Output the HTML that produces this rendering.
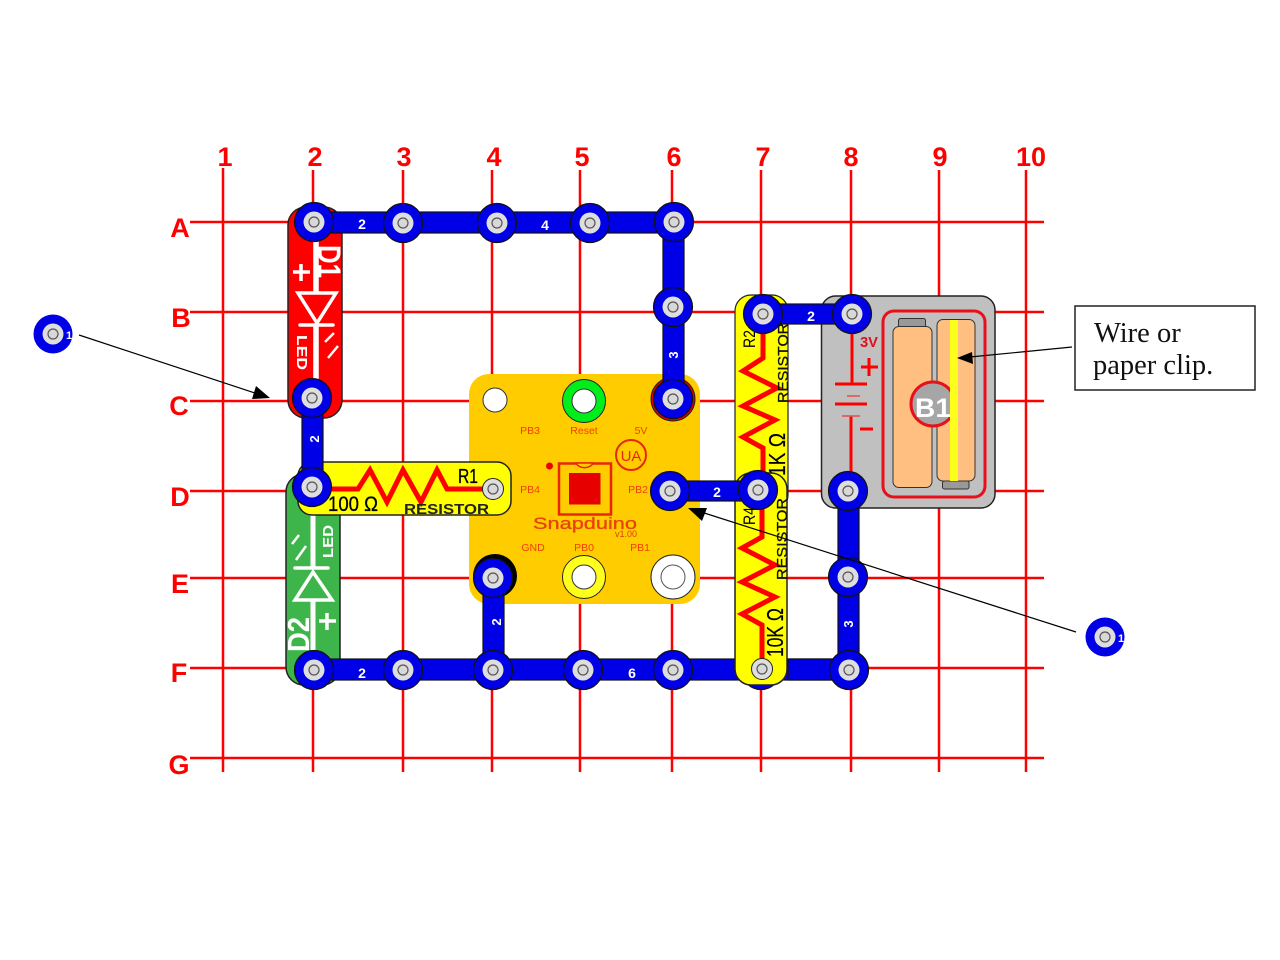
<!DOCTYPE html>
<html>
<head>
<meta charset="utf-8">
<style>
html,body{margin:0;padding:0;background:#fff;}
svg{display:block;filter:blur(.3px);}
text{font-family:"Liberation Sans",sans-serif;}
text.serif{font-family:"Liberation Serif",serif;}
</style>
</head>
<body>
<svg xmlns="http://www.w3.org/2000/svg" width="1280" height="960" viewBox="0 0 1280 960">
<defs>
<g id="s">
<circle r="19.5" fill="#0000e6" stroke="#111" stroke-width="1.2"/>
<circle r="10.5" fill="#dedede"/>
<circle r="5" fill="#d8d8d8" stroke="#555" stroke-width="1.2"/>
</g>
<g id="m">
<circle r="10.5" fill="#dedede" stroke="#222" stroke-width="1"/>
<circle r="5" fill="#d8d8d8" stroke="#555" stroke-width="1.2"/>
</g>
</defs>
<rect width="1280" height="960" fill="#fff"/>

<!-- grid -->
<g stroke="#f00" stroke-width="2.5" fill="none">
<path d="M223 168V772M313 170V772M403 170V772M492 170V772M580 170V772M672 170V772M761 170V772M851 170V772M939 170V772M1026 170V772"/>
<path d="M190 222H1044M190 312H1044M190 401H1044M190 491H1044M190 578H1044M190 668H1044M190 758H1044"/>
</g>
<g fill="#f00" font-size="27" font-weight="bold" text-anchor="middle">
<text x="225" y="166">1</text><text x="315" y="166">2</text><text x="404" y="166">3</text>
<text x="494" y="166">4</text><text x="582" y="166">5</text><text x="674" y="166">6</text>
<text x="763" y="166">7</text><text x="851" y="166">8</text><text x="940" y="166">9</text>
<text x="1031" y="166">10</text>
<text x="180" y="237">A</text><text x="181" y="327">B</text><text x="179" y="415">C</text>
<text x="180" y="506">D</text><text x="180" y="593">E</text><text x="179" y="682">F</text><text x="179" y="774">G</text>
</g>

<!-- Snapduino board -->
<rect x="469" y="374" width="231" height="230" rx="20" fill="#ffcc00"/>
<circle cx="495" cy="400" r="12" fill="#fff" stroke="#333" stroke-width="1"/>
<circle cx="584" cy="401" r="21.500" fill="#00ee1c" stroke="#222" stroke-width="1"/>
<circle cx="584" cy="401" r="12" fill="#fff" stroke="#333" stroke-width="1"/>
<circle cx="584" cy="577" r="21.500" fill="#ffff1e" stroke="#222" stroke-width="1"/>
<circle cx="584" cy="577" r="12" fill="#fff" stroke="#333" stroke-width="1"/>
<circle cx="673" cy="577" r="22" fill="#fff" stroke="#222" stroke-width="1"/>
<circle cx="673" cy="577" r="12" fill="#fff" stroke="#555" stroke-width="1"/>
<circle cx="673" cy="399" r="22" fill="#d80000" stroke="#222" stroke-width="1"/>
<circle cx="495" cy="576" r="22" fill="#000"/>
<g fill="#f04000" font-size="10.500" text-anchor="middle">
<text x="530" y="434">PB3</text><text x="584" y="434">Reset</text><text x="641" y="434">5V</text>
<text x="530" y="493">PB4</text><text x="638" y="493">PB2</text>
<text x="533" y="551">GND</text><text x="584" y="551">PB0</text><text x="640" y="551">PB1</text>
</g>
<circle cx="631" cy="455" r="15" fill="none" stroke="#e8260a" stroke-width="2"/>
<text x="631" y="461" fill="#e8260a" font-size="15" text-anchor="middle">UA</text>
<circle cx="549.500" cy="466" r="3.500" fill="#e00"/>
<rect x="559" y="463.500" width="52" height="51" fill="none" stroke="#e8260a" stroke-width="2.500"/>
<path d="M576 463a9 7 0 0 0 17 0z" fill="#ffcc00" stroke="#e8260a" stroke-width="1.500"/>
<rect x="569" y="473" width="31.500" height="31.500" fill="#e60000"/>
<text x="585" y="529" fill="#e8420a" font-size="17" text-anchor="middle" textLength="104" lengthAdjust="spacingAndGlyphs" stroke="#e8420a" stroke-width=".3">Snapduino</text>
<text x="626" y="537" fill="#d84000" font-size="9" text-anchor="middle">v1.00</text>

<!-- D1 red LED -->
<rect x="288" y="207" width="54" height="211" rx="18" fill="#f00" stroke="#222" stroke-width="1.500"/>
<g stroke="#fff" fill="none">
<path d="M316 240V292M316 325V382" stroke-width="5.500"/>
<path d="M298 293H336L317 323Z" stroke-width="3.500"/>
<path d="M300 325H333" stroke-width="3.500" stroke-linecap="round"/>
<path d="M293 272H310M301 264V281" stroke-width="3.500"/>
<path d="M325 342L334 333M328 358L338 346" stroke-width="2.500"/>
</g>
<text transform="translate(297,335) rotate(90)" fill="#fff" font-size="15" font-weight="bold" textLength="35" lengthAdjust="spacingAndGlyphs">LED</text>
<text transform="translate(318,245) rotate(90)" fill="#fff" font-size="32" font-weight="bold" textLength="33" lengthAdjust="spacingAndGlyphs">D1</text>

<!-- D2 green LED -->
<rect x="286" y="474" width="54" height="211" rx="18" fill="#3eb54a" stroke="#222" stroke-width="1.500"/>
<g stroke="#fff" fill="none">
<path d="M313 515V568M313 600V650" stroke-width="5"/>
<path d="M295 568H328" stroke-width="3.500" stroke-linecap="round"/>
<path d="M295 600H332L313 572Z" stroke-width="3.500"/>
<path d="M319 621H336M327 613V630" stroke-width="3.500"/>
<path d="M292 544L299 535M296 560L306 546" stroke-width="2.500"/>
</g>
<text transform="translate(333,558) rotate(-90)" fill="#fff" font-size="15" font-weight="bold" textLength="33" lengthAdjust="spacingAndGlyphs">LED</text>
<text transform="translate(309,652) rotate(-90)" fill="#fff" font-size="31" font-weight="bold" textLength="35" lengthAdjust="spacingAndGlyphs">D2</text>

<!-- R1 -->
<rect x="298" y="462" width="213" height="53" rx="14" fill="#ffff00" stroke="#222" stroke-width="1.500"/>
<path d="M330 489H358L370 470L387 502L403 470L421 502L437 470L447 489H492" fill="none" stroke="#f00" stroke-width="5"/>
<text x="328" y="511" font-size="21" textLength="50" lengthAdjust="spacingAndGlyphs" stroke="#000" stroke-width=".3">100 Ω</text>
<text x="458" y="483" font-size="20" textLength="20" lengthAdjust="spacingAndGlyphs" stroke="#000" stroke-width=".3">R1</text>
<text x="404" y="514" font-size="15" font-weight="bold" fill="#222" textLength="85" lengthAdjust="spacingAndGlyphs">RESISTOR</text>
<use href="#m" x="493" y="489"/>

<!-- bottom row blue strip goes under R4 -->
<g stroke="#111" stroke-width="1.200" fill="#0000e6">
<rect x="314" y="659" width="535" height="21"/>
</g>
<circle cx="761" cy="670" r="19.500" fill="#0000e6" stroke="#111" stroke-width="1.200"/>

<!-- R2 -->
<rect x="735" y="295" width="53" height="216" rx="16" fill="#ffff00" stroke="#222" stroke-width="1.200"/>
<path d="M763 330V358L743 371L777 388L743 406L775 420L743 437L763 448V480" fill="none" stroke="#f00" stroke-width="5"/>
<text transform="translate(755,348) rotate(-90)" font-size="17" textLength="18" lengthAdjust="spacingAndGlyphs">R2</text>
<text transform="translate(788,403) rotate(-90)" font-size="15" fill="#111" textLength="80" lengthAdjust="spacingAndGlyphs" stroke="#111" stroke-width=".3">RESISTOR</text>
<text transform="translate(785,476) rotate(-90)" font-size="23" textLength="43" lengthAdjust="spacingAndGlyphs" stroke="#000" stroke-width=".2">1K Ω</text>

<!-- R4 -->
<rect x="735" y="473" width="52" height="212" rx="16" fill="#ffff00" stroke="#222" stroke-width="1.500"/>
<path d="M762 500V537L742 548L775 565L742 582L775 597L742 614L762 625V665" fill="none" stroke="#f00" stroke-width="5"/>
<text transform="translate(755,525) rotate(-90)" font-size="17" textLength="18" lengthAdjust="spacingAndGlyphs">R4</text>
<text transform="translate(787,580) rotate(-90)" font-size="15" fill="#111" textLength="82" lengthAdjust="spacingAndGlyphs" stroke="#111" stroke-width=".3">RESISTOR</text>
<text transform="translate(783,657) rotate(-90)" font-size="23" textLength="49" lengthAdjust="spacingAndGlyphs" stroke="#000" stroke-width=".2">10K Ω</text>
<use href="#m" x="762" y="669"/>

<!-- Battery -->
<rect x="821.500" y="296" width="173.500" height="212" rx="14" fill="#c0c0c0" stroke="#222" stroke-width="1.500"/>
<rect x="883" y="311" width="102" height="186" rx="11" fill="#c0c0c0" stroke="#e8101a" stroke-width="3"/>
<rect x="898.500" y="318.500" width="27" height="8.500" rx="2" fill="#999" stroke="#333" stroke-width="1"/>
<rect x="942.500" y="481" width="26.500" height="8" rx="2" fill="#999" stroke="#333" stroke-width="1"/>
<rect x="893" y="326.500" width="39" height="161" rx="6" fill="#ffbf80" stroke="#333" stroke-width="1"/>
<rect x="937" y="319.500" width="38" height="161.500" rx="6" fill="#ffbf80" stroke="#333" stroke-width="1"/>
<circle cx="933" cy="404" r="22" fill="#a6a6a6" stroke="#e8101a" stroke-width="3"/>
<text x="915" y="417" font-size="27" font-weight="bold" fill="#fff" textLength="36" lengthAdjust="spacingAndGlyphs">B1</text>
<rect x="950" y="320" width="8" height="161" fill="#ffff1e"/>
<g stroke="#f00" fill="none">
<path d="M852 330V384M851 416V478" stroke-width="3"/>
<path d="M835 384H867M835 404H867" stroke-width="3"/>
<path d="M847 396H860M842 416H860" stroke-width="1.500" stroke="#e05050"/>
<path d="M861 367H878M869 358V376" stroke-width="3"/>
<path d="M860 429H873" stroke-width="3"/>
</g>
<text x="860" y="347" font-size="15" font-weight="bold" fill="#e0101a" textLength="18" lengthAdjust="spacingAndGlyphs">3V</text>

<!-- Blue connectors -->
<g stroke="#111" stroke-width="1.200" fill="#0000e6">
<rect x="314" y="212" width="360" height="21"/>
<rect x="663" y="222" width="21" height="177"/>
<rect x="302" y="398" width="21" height="89"/>
<rect x="483" y="578" width="21" height="92"/>
<rect x="838" y="491" width="21" height="178"/>
<rect x="670" y="481" width="88" height="20"/>
<rect x="763" y="304" width="88" height="20"/>
<rect x="788" y="659" width="50" height="21"/>
</g>

<!-- Snaps -->
<use href="#s" x="314" y="222"/><use href="#s" x="403" y="223"/><use href="#s" x="497" y="223"/>
<use href="#s" x="590" y="223"/><use href="#s" x="674" y="222"/>
<use href="#s" x="673" y="307"/><use href="#s" x="673" y="399"/>
<use href="#s" x="312" y="398"/><use href="#s" x="312" y="487"/>
<use href="#s" x="314" y="670"/><use href="#s" x="403" y="670"/><use href="#s" x="493" y="670"/>
<use href="#s" x="583" y="670"/><use href="#s" x="673" y="670"/>
<use href="#s" x="493" y="578"/>
<use href="#s" x="849" y="670"/><use href="#s" x="848" y="577"/><use href="#s" x="848" y="491"/>
<use href="#s" x="670" y="491"/><use href="#s" x="758" y="490"/>
<use href="#s" x="763" y="314"/><use href="#s" x="852" y="314"/>

<!-- Connector labels -->
<g fill="#fff" font-size="14" font-weight="bold" text-anchor="middle">
<text x="362" y="229">2</text><text x="545" y="230">4</text>
<text x="362" y="678">2</text><text x="632" y="678">6</text>
<text x="717" y="497">2</text><text x="811" y="321">2</text>
<text transform="translate(678,355) rotate(-90)" font-size="13">3</text>
<text transform="translate(319,439) rotate(-90)" font-size="13">2</text>
<text transform="translate(501,622) rotate(-90)" font-size="13">2</text>
<text transform="translate(853,624) rotate(-90)" font-size="13">3</text>
</g>

<!-- Single snaps -->
<circle cx="53" cy="334" r="19.500" fill="#0000e6"/>
<circle cx="53" cy="334" r="10.500" fill="#dedede"/><circle cx="53" cy="334" r="5" fill="#d8d8d8" stroke="#555" stroke-width="1.200"/>
<text x="69" y="339" font-size="11" font-weight="bold" fill="#fff" text-anchor="middle">1</text>
<circle cx="1105" cy="637" r="19.500" fill="#0000e6"/>
<circle cx="1105" cy="637" r="10.500" fill="#dedede"/><circle cx="1105" cy="637" r="5" fill="#d8d8d8" stroke="#555" stroke-width="1.200"/>
<text x="1121" y="642" font-size="11" font-weight="bold" fill="#fff" text-anchor="middle">1</text>

<!-- Arrows -->
<g stroke="#000" stroke-width="1.200" fill="none">
<path d="M79 335L258 394"/>
<path d="M1076 632L698 511"/>
<path d="M1072 347L970 357"/>
</g>
<path d="M270 398L252 399L256 386Z" fill="#000"/>
<path d="M688 508L707 508L702 521Z" fill="#000"/>
<path d="M957 358L972 352L973 364Z" fill="#000"/>

<!-- Callout -->
<rect x="1075" y="306" width="180" height="84" fill="#fff" stroke="#222" stroke-width="1.500"/>
<text class="serif" x="1094" y="342" font-size="28.500" fill="#111">Wire or</text>
<text class="serif" x="1093" y="374" font-size="28.500" fill="#111">paper clip.</text>
</svg>
</body>
</html>
